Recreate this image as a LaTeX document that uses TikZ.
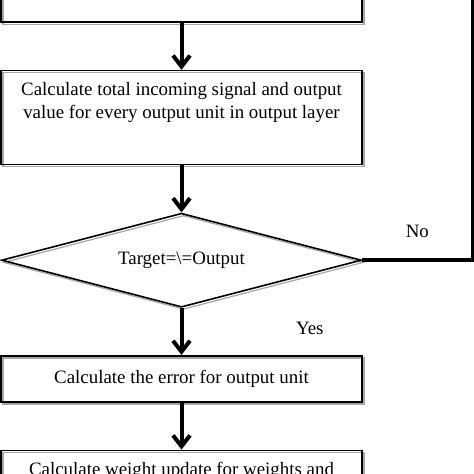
\documentclass[tikz,border=0pt]{standalone}
\usepackage{fontspec}
\setmainfont{Liberation Serif}
\usetikzlibrary{positioning,shapes.geometric,arrows.meta}

\begin{document}
\begin{tikzpicture}[font=\fontsize{18.9}{22.6}\selectfont, node distance = 47pt,
	block/.style = { rectangle, draw=black, line width=1.6pt, minimum width=361pt,
	preaction={draw=black!35, line width=1.2pt, transform canvas={shift={(2pt,-2.2pt)}}} },
	decision/.style = { diamond, draw=black, line width=1.6pt, aspect=3.8,
	minimum width=360pt, minimum height=94pt, inner sep=0pt,
	preaction={draw=black!35, line width=1.2pt, transform canvas={shift={(2pt,-2.2pt)}}} },
	flow/.style = { line width=4pt, -{Straight Barb[length=11pt,width=17pt]} } ]

  \useasboundingbox (0pt,0pt) rectangle (474pt,-474pt);
  \clip (0pt,0pt) rectangle (474pt,-474pt);

  \node [name=prev, block, minimum height=60pt] at (181.5pt,8pt) {};
  \node [name=total, block, minimum height=94pt, below=of prev] {};
  \node [name=totaltext, align=center, below=9.5pt of total.north]
	{Calculate total incoming signal and output\\value for every output unit in output layer};
  \node [name=check, decision, below=of total] {Target=\textbackslash=Output};
  \node [name=error, block, minimum height=46pt, below=of check]
	{Calculate the error for output unit};
  \node [name=update, block, minimum height=60pt, below=of error] {};
  \node [name=updatetext, below=9.5pt of update.north]
	{Calculate weight update for weights and};

  \draw [flow] (prev) -- (total);
  \draw [flow] (total) -- (check);
  \draw [flow] (check) -- (error);
  \draw [flow] (error) -- (update);
  \node [name=yes, below right=11pt and 111pt of check.south] {Yes};

  \coordinate [right=110pt of check.east] (loop);
  \coordinate (looptop) at (loop |- prev.north);
  \draw [line width=3.6pt, line join=miter] (check.east)
	-- node (no) [above=17pt] {No} (loop) -- (looptop);
\end{tikzpicture}
\end{document}
